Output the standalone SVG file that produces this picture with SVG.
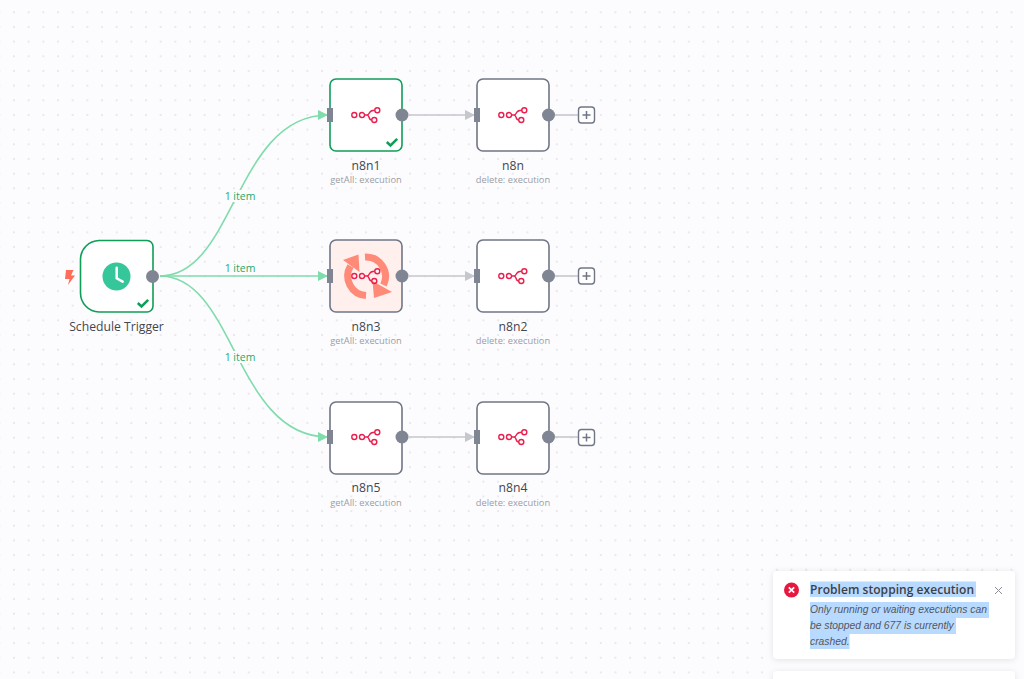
<svg xmlns="http://www.w3.org/2000/svg" width="1024" height="679" viewBox="0 0 1024 679">
<defs>
<style>
.box{fill:#fff;stroke:#6f7686;stroke-width:1.6}
.ok{stroke:#0f9d58}
.port{fill:#7f8593}
.inp{fill:#7f8593}
.title{font:12.2px "Open Sans","Noto Sans",sans-serif;fill:#43464f;text-anchor:middle}
.sub{font:9.3px "Open Sans","Noto Sans",sans-serif;fill:#9a9da6;text-anchor:middle}
.lab{font:10.5px "Open Sans","Noto Sans",sans-serif;fill:#27a966;text-anchor:middle}
.gc{fill:none;stroke:#7fdcab;stroke-width:1.6}
.gr{fill:none;stroke:#c5c7cd;stroke-width:1.6}
.ic{fill:none;stroke:#ea1f4d;stroke-width:1.4}
.spin{fill:none;stroke:#ff8a78;stroke-width:7}
</style>
<pattern id="dots" width="14.67" height="14.67" patternUnits="userSpaceOnUse" x="13" y="11.3">
<circle cx="1" cy="1" r="0.75" fill="#cdcdd3"/>
</pattern>
<marker id="ag" markerWidth="12" markerHeight="12" refX="10" refY="5" orient="auto" markerUnits="userSpaceOnUse"><path d="M0 0L10 5L0 10Z" fill="#7fdcab"/></marker>
<marker id="ah" markerWidth="12" markerHeight="12" refX="10" refY="5" orient="auto" markerUnits="userSpaceOnUse"><path d="M0 0L10 5L0 10Z" fill="#c5c7cd"/></marker>
<g id="nodeicon"><circle cx="-11.700" cy="0" r="2.500" class="ic"/><circle cx="-4" cy="0" r="2.500" class="ic"/><path d="M-1.500 0H1C4.500 0 1.500 -4.700 8.800 -4.700M1 0C4 0 2 5 5.800 5" class="ic"/><circle cx="11.300" cy="-4.700" r="2.500" class="ic"/><circle cx="8.300" cy="5" r="2.500" class="ic"/></g>
<path id="check" d="M-5.200 0L-1.500 3.500L5.200 -3.200" fill="none" stroke="#0f9d58" stroke-width="2.500"/>
</defs>
<rect width="1024" height="679" fill="#fcfcfe"/>
<rect width="1024" height="679" fill="url(#dots)"/>
<g id="connectors">
<path class="gc" d="M160 276C235 276 235 115 328 115" marker-end="url(#ag)"/>
<path class="gc" d="M160 276H328" marker-end="url(#ag)"/>
<path class="gc" d="M160 276C235 276 235 437 328 437" marker-end="url(#ag)"/>
<path class="gr" d="M409 115H475" marker-end="url(#ah)"/>
<path class="gr" d="M409 276H475" marker-end="url(#ah)"/>
<path class="gr" d="M409 437H475" marker-end="url(#ah)"/>
<path class="gr" d="M555 115H578"/><path class="gr" d="M555 276H578"/><path class="gr" d="M555 437H578"/>
<rect x="224" y="190" width="32" height="12" fill="#fcfcfe"/><text class="lab" x="240" y="199.500">1 item</text>
<text class="lab" x="240" y="271.500">1 item</text>
<rect x="224" y="351" width="32" height="12" fill="#fcfcfe"/><text class="lab" x="240" y="360.500">1 item</text>
</g>
<g id="trigger">
<path d="M66 270L73.500 270L71 275.500L75 275.500L68 285L69.500 279L65 279Z" fill="#ff6d5a"/>
<path class="box ok" d="M99 240.500H147A6 6 0 0 1 153 246.500V306A6 6 0 0 1 147 312H99A19 19 0 0 1 80.500 293V259A19 19 0 0 1 99 240.500Z"/>
<circle cx="116.500" cy="276.500" r="14" fill="#35c79a"/>
<path d="M116.700 267.700V278.300L122.700 281.700" fill="none" stroke="#fff" stroke-width="2.500" stroke-linecap="round"/>
<circle cx="152.500" cy="276.500" r="6.500" class="port"/>
<use href="#check" x="143" y="303"/>
<text class="title" x="116.500" y="331">Schedule Trigger</text>
</g>
<g id="n8n1"><rect class="box ok" x="330" y="79" width="72" height="72" rx="6"/><rect class="inp" x="327" y="108" width="6" height="14"/><circle class="port" cx="402" cy="115" r="6.500"/><use href="#nodeicon" x="366" y="115"/><use href="#check" x="392" y="142"/><text class="title" x="366" y="169.500">n8n1</text><text class="sub" x="366" y="183">getAll: execution</text></g>
<g id="n8n"><rect class="box" x="477" y="79" width="72" height="72" rx="6"/><rect class="inp" x="474" y="108" width="6" height="14"/><circle class="port" cx="548.500" cy="115" r="6.500"/><use href="#nodeicon" x="513" y="115"/><text class="title" x="513" y="169.500">n8n</text><text class="sub" x="513" y="183">delete: execution</text></g>
<g id="n8n3"><rect class="box" x="330" y="240" width="72" height="72" rx="6" style="fill:#fff0ed"/><rect class="inp" x="327" y="269" width="6" height="14"/><circle class="port" cx="402" cy="276" r="6.500"/>
<path class="spin" d="M350.500 266A19.500 19.500 0 0 0 366 295.500"/><path d="M343 260L358.500 254.500L359.500 272Z" fill="#ff8a78"/>
<path class="spin" d="M365 257A19.500 19.500 0 0 1 383.500 285"/><path d="M392 292L374 298L372.500 281Z" fill="#ff8a78"/>
<use href="#nodeicon" x="366" y="276"/><text class="title" x="366" y="330.500">n8n3</text><text class="sub" x="366" y="344">getAll: execution</text></g>
<g id="n8n2"><rect class="box" x="477" y="240" width="72" height="72" rx="6"/><rect class="inp" x="474" y="269" width="6" height="14"/><circle class="port" cx="548.500" cy="276" r="6.500"/><use href="#nodeicon" x="513" y="276"/><text class="title" x="513" y="330.500">n8n2</text><text class="sub" x="513" y="344">delete: execution</text></g>
<g id="n8n5"><rect class="box" x="330" y="402" width="72" height="72" rx="6"/><rect class="inp" x="327" y="430" width="6" height="14"/><circle class="port" cx="402" cy="437" r="6.500"/><use href="#nodeicon" x="366" y="437"/><text class="title" x="366" y="492">n8n5</text><text class="sub" x="366" y="506">getAll: execution</text></g>
<g id="n8n4"><rect class="box" x="477" y="402" width="72" height="72" rx="6"/><rect class="inp" x="474" y="430" width="6" height="14"/><circle class="port" cx="548.500" cy="437" r="6.500"/><use href="#nodeicon" x="513" y="437"/><text class="title" x="513" y="492">n8n4</text><text class="sub" x="513" y="506">delete: execution</text></g>
<g id="plus-1"><rect x="578.500" y="107" width="16" height="16" rx="3" fill="#fff" stroke="#6f7686" stroke-width="1.4"/><path d="M582.500 115H590.500M586.500 111V119" stroke="#6f7686" stroke-width="1.5"/></g>
<g id="plus-2"><rect x="578.500" y="268" width="16" height="16" rx="3" fill="#fff" stroke="#6f7686" stroke-width="1.4"/><path d="M582.500 276H590.500M586.500 272V280" stroke="#6f7686" stroke-width="1.5"/></g>
<g id="plus-3"><rect x="578.500" y="429.500" width="16" height="16" rx="3" fill="#fff" stroke="#6f7686" stroke-width="1.4"/><path d="M582.500 437.500H590.500M586.500 433.500V441.500" stroke="#6f7686" stroke-width="1.5"/></g>
<g id="toast">
<rect x="773" y="571" width="242" height="88" rx="4" fill="#fff" style="filter:drop-shadow(0 1px 3px rgba(0,0,0,.1))"/>
<rect x="773" y="671" width="242" height="20" rx="4" fill="#fff" style="filter:drop-shadow(0 1px 3px rgba(0,0,0,.1))"/>
<circle cx="791.500" cy="590" r="7.500" fill="#e8173f"/><path d="M788.800 587.300L794.200 592.700M794.200 587.300L788.800 592.700" stroke="#fff" stroke-width="1.700"/>
<path d="M995 587L1002 594M1002 587L995 594" stroke="#8a8d95" stroke-width="1"/>
<rect x="810" y="581.500" width="166" height="15.500" fill="#b8daff"/>
<rect x="810" y="602" width="179" height="16" fill="#b8daff"/>
<rect x="810" y="618" width="146" height="16" fill="#b8daff"/>
<rect x="810" y="634" width="39.500" height="15" fill="#b8daff"/>
<text x="810" y="594" style="font:600 12px 'Open Sans','Noto Sans',sans-serif;fill:#3d3f47" textLength="164">Problem stopping execution</text>
<g style="font:italic 10.300px 'Liberation Sans',Arial,sans-serif;fill:#54565e"><text x="810" y="613">Only running or waiting executions can</text><text x="810" y="629">be stopped and 677 is currently</text><text x="810" y="645">crashed.</text></g>
</g>
</svg>
